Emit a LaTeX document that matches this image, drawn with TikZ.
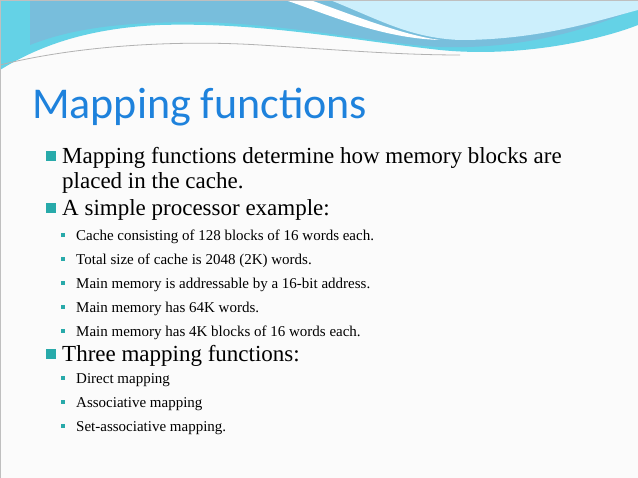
\documentclass[tikz,border=0pt]{standalone}
\usepackage{fontspec}
\setmainfont{Liberation Serif}
\newfontfamily\titlefont{Carlito}
\begin{document}
\begin{tikzpicture}[x=1pt,y=-1pt,
  l1/.style={anchor=west,font=\fontsize{23}{26}\selectfont,inner sep=0pt},
  l2/.style={anchor=west,font=\fontsize{15}{18}\selectfont,inner sep=0pt}]
\definecolor{wave}{RGB}{120,190,220}
\definecolor{wave2}{RGB}{100,210,230}
\definecolor{bul}{RGB}{40,170,170}
\definecolor{ttl}{RGB}{30,130,220}
\fill[white!97!gray] (0,0) rectangle (638,478);
\useasboundingbox (0,0) rectangle (638,478);
% waves
\fill[wave2] (0,0) -- (0,70) .. controls (40,45) and (90,28) .. (160,25) .. controls (260,22) and (350,40) .. (440,50) .. controls (520,58) and (600,40) .. (638,25) -- (638,0) -- cycle;
\fill[wave] (30,0) -- (30,45) .. controls (80,25) and (140,22) .. (200,22) .. controls (300,25) and (380,44) .. (440,47) .. controls (540,50) and (610,20) .. (638,8) -- (638,0) -- cycle;
\fill[white] (285,0) .. controls (330,15) and (380,38) .. (440,40) .. controls (400,35) and (340,10) .. (310,0) -- cycle;
\fill[white!80!cyan] (330,0) .. controls (380,20) and (410,38) .. (460,40) .. controls (540,40) and (600,20) .. (638,10) -- (638,0) -- cycle;
\draw[gray!60,line width=0.8pt] (0,65) .. controls (80,45) and (180,40) .. (260,45) .. controls (340,50) and (400,55) .. (460,55);
\draw[gray!50] (0,0) rectangle (638,478);
% title
\node[anchor=west,inner sep=0pt,text=ttl,font=\titlefont\fontsize{44}{48}\selectfont] (t) at (32,107) {Mapping functions};
\foreach \y in {158,210,356}{\fill[bul] (46,\y-7) rectangle (56,\y+3);}
\foreach \y in {237,261,285,309,333,380,404,428}{\fill[bul] (61,\y-4) rectangle (65,\y);}
\node[l1] (a1) at (62,158) {Mapping functions determine how memory blocks are};
\node[l1] (a2) at (62,183) {placed in the cache.};
\node[l1] (b) at (62,210) {A simple processor example:};
\node[l2] (b1) at (76,237) {Cache consisting of 128 blocks of 16 words each.};
\node[l2] (b2) at (76,261) {Total size of cache is 2048 (2K) words.};
\node[l2] (b3) at (76,285) {Main memory is addressable by a 16-bit address.};
\node[l2] (b4) at (76,309) {Main memory has 64K words.};
\node[l2] (b5) at (76,333) {Main memory has 4K blocks of 16 words each.};
\node[l1] (c) at (62,356) {Three mapping functions:};
\node[l2] (c1) at (76,380) {Direct mapping};
\node[l2] (c2) at (76,404) {Associative mapping};
\node[l2] (c3) at (76,428) {Set-associative mapping.};
\end{tikzpicture}
\end{document}
